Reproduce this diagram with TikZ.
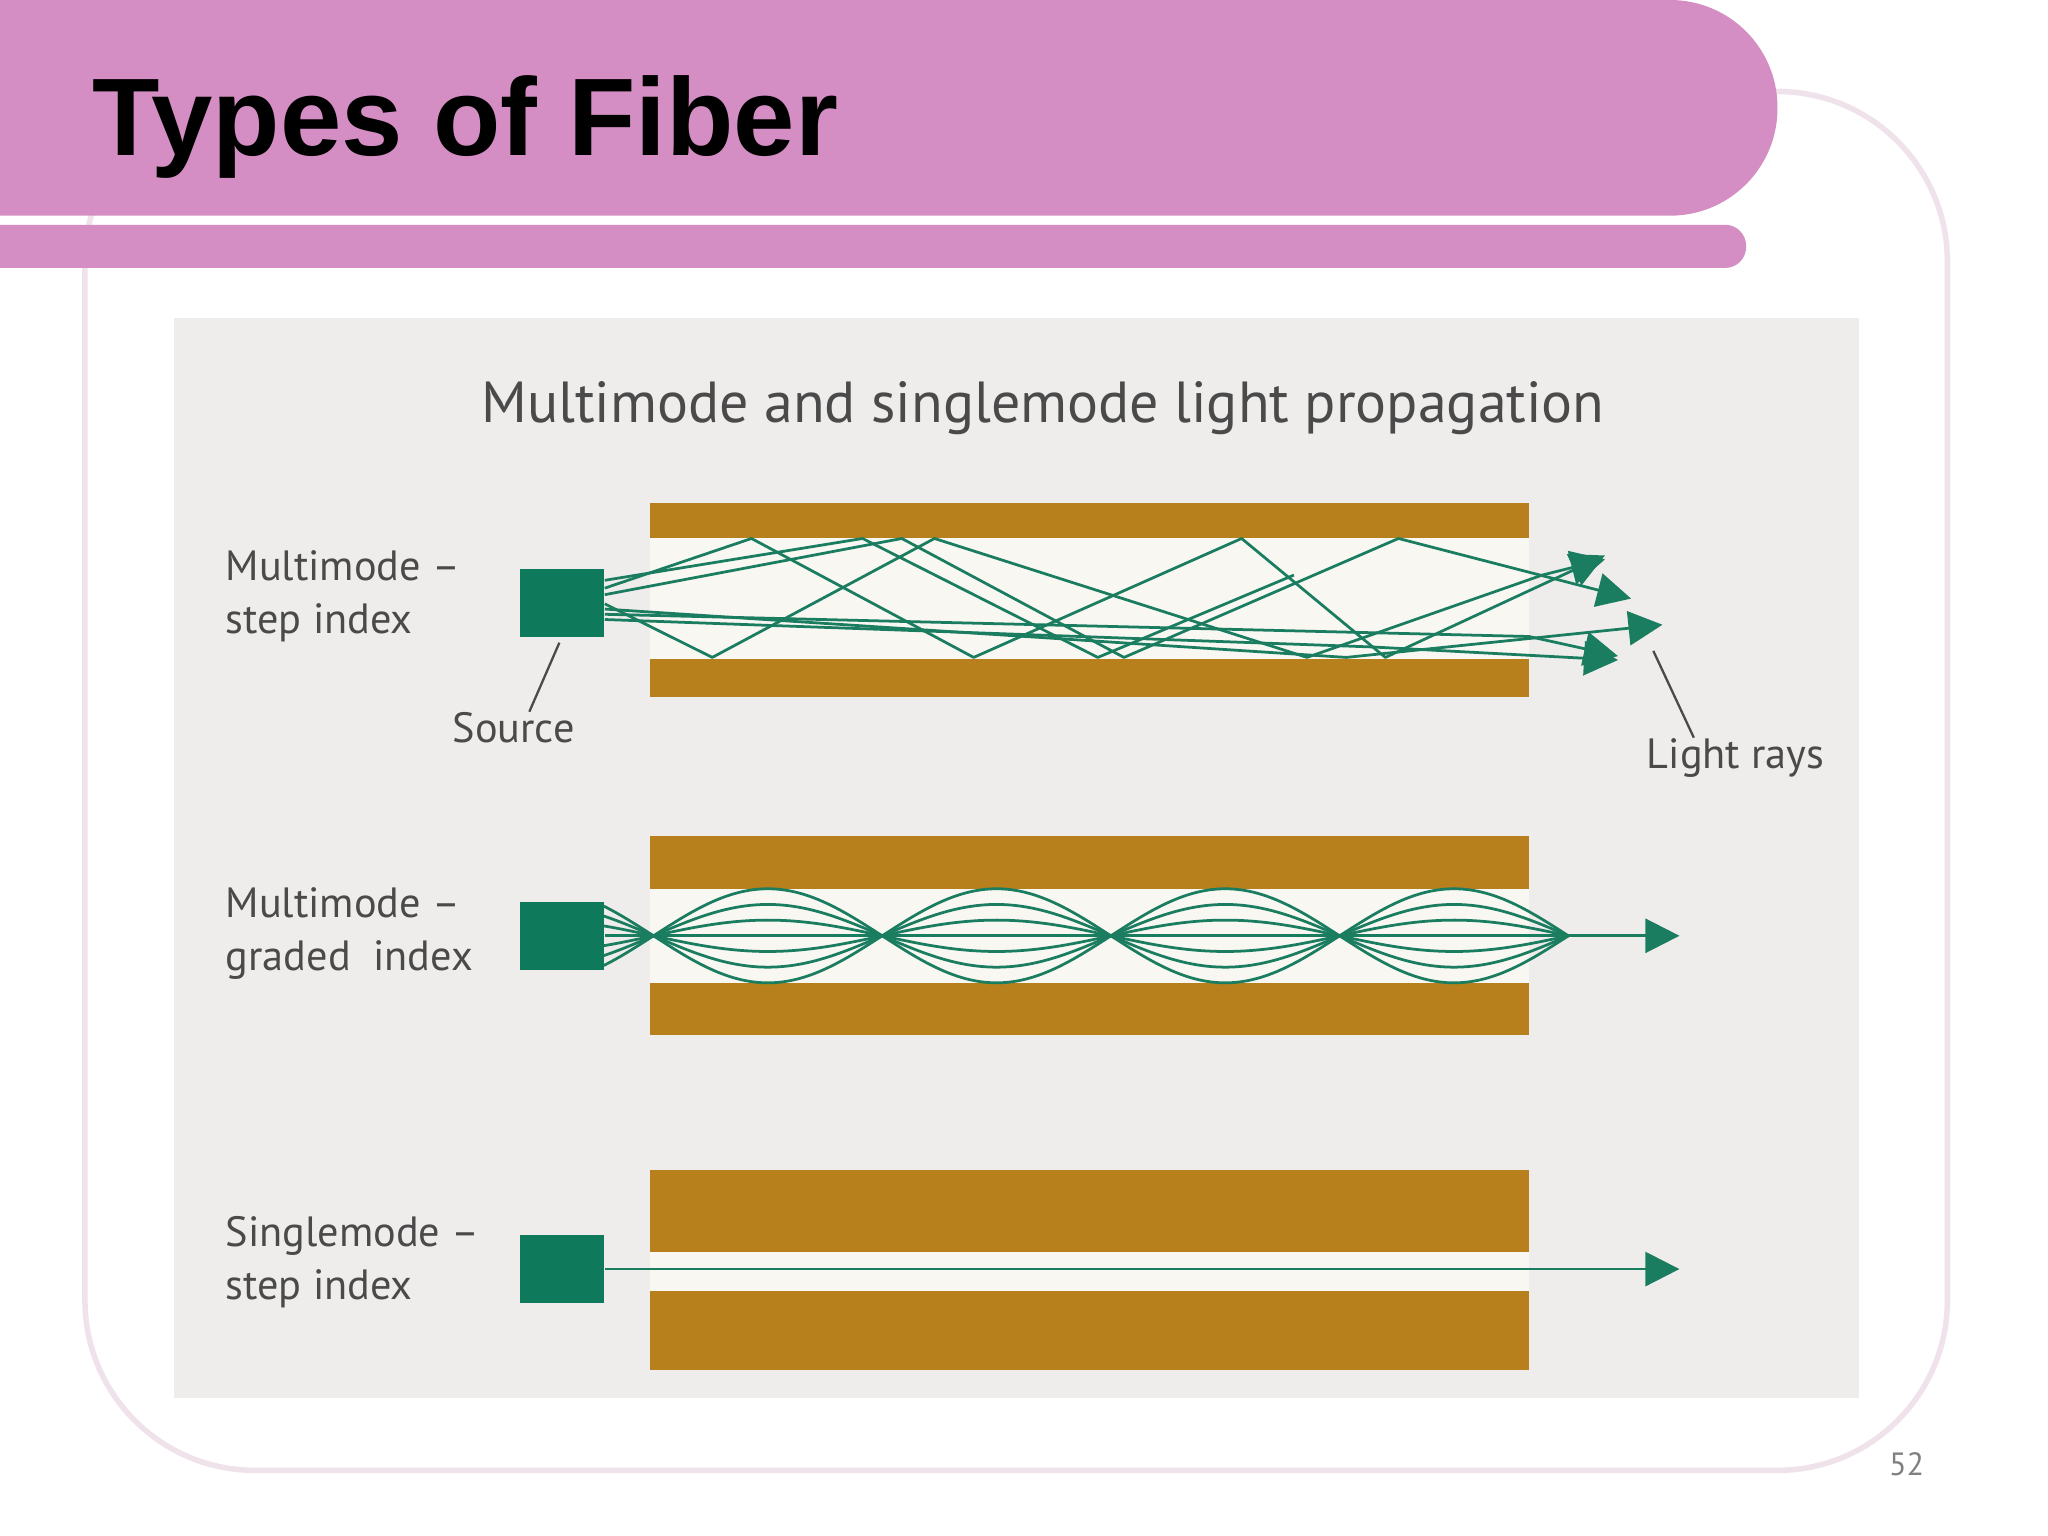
\documentclass[tikz,border=0pt]{standalone}
\usepackage{fontspec}
\setmainfont{Liberation Sans}
\newfontfamily\labfont{PT Sans}
\usetikzlibrary{positioning, arrows.meta}
\definecolor{bannerpink}{HTML}{D48EC4}
\definecolor{framepink}{HTML}{EFE2EB}
\definecolor{panelgray}{HTML}{EFEDEB}
\definecolor{cladbrown}{HTML}{B7801C}
\definecolor{corewhite}{HTML}{F9F7F2}
\definecolor{raygreen}{HTML}{1A7D60}
\definecolor{srcgreen}{HTML}{0F7A5B}
\definecolor{labgray}{HTML}{4A4A4A}
\tikzset{
	cladding/.style ={fill=cladbrown},
	core/.style ={fill=corewhite},
	source/.style ={fill=srcgreen, draw=none, minimum width=0.64cm, minimum height=0.52cm, inner sep=0pt},
	ray/.style ={raygreen, line width=0.6pt, line join=round},
	rayarrow/.style ={ray, -{Triangle[length=2.6mm, width=2.6mm]}},
	labe/.style ={font={\labfont\fontsize{9.2}{11.5}\selectfont}, text=labgray, align=left, inner sep=0pt, anchor=west},
	pointer/.style ={labgray, line width=0.5pt},
}
\begin{document}
\begin{tikzpicture}[x=0.01cm, y=-0.01cm]
	\useasboundingbox (0,0) rectangle (1567,1175);
	\fill[white] (0,0) rectangle (1567,1175);
	% frame and banner
	\draw[framepink, line width=1.2pt, rounded corners=1.3cm] (65,70) rectangle (1490,1125);
	\begin{scope}
		\clip (0,0) rectangle (1567,1175);
		\fill[bannerpink, rounded corners=0.82cm] (-200,0) rectangle (1360,165);
		\fill[bannerpink, rounded corners=0.16cm] (-200,172) rectangle (1336,205);
	\end{scope}
	\node[anchor=west, inner sep=0pt, font={\bfseries\fontsize{24}{28}\selectfont}] (title) at (70,97) {Types of Fiber};
	\node[anchor=east, inner sep=0pt, text=gray, font={\labfont\fontsize{7}{8}\selectfont}] (page) at (1473,1120) {52};
	% panel
	\fill[panelgray] (133,243) rectangle (1422,1070);
	\node[inner sep=0pt, text=labgray, font={\labfont\fontsize{12.6}{15}\selectfont}] (heading) at (798,312) {Multimode and singlemode light propagation};
	% fibers
	\fill[cladding] (497,385) rectangle (1170,533);
	\fill[core] (497,412) rectangle (1170,504);
	\fill[cladding] (497,640) rectangle (1170,792);
	\fill[core] (497,680) rectangle (1170,752);
	\fill[cladding] (497,895) rectangle (1170,1048);
	\fill[core] (497,958) rectangle (1170,988);
	% sources
	\node[source] (src1) at (430,461) {};
	\node[source] (src2) at (430,716) {};
	\node[source] (src3) at (430,971) {};
	% step index rays
	\draw[rayarrow] (src1.east |- 0,450) -- (575,412) -- (745,503) -- (950,412) -- (1060,503) -- (1228,425);
	\draw[rayarrow] (src1.east |- 0,455) -- (690,412) -- (860,503) -- (1070,412) -- (1248,458);
	\draw[rayarrow] (src1.east |- 0,462) -- (545,503) -- (715,412) -- (1000,503) -- (1180,440) -- (1228,428);
	\draw[ray] (src1.east |- 0,444) -- (660,412) -- (840,503) -- (990,440);
	\draw[rayarrow] (src1.east |- 0,466) -- (1030,503) -- (1272,478);
	\draw[rayarrow] (src1.east |- 0,470) -- (1170,487) -- (1238,502);
	\draw[rayarrow] (src1.east |- 0,474) -- (1050,495) -- (1238,505);
	% graded index rays
	\foreach \a in {36,-36,24,-24,12,-12}
		\draw[ray] plot[domain=462:1200, samples=120, smooth] (\x,{716+\a*sin((\x-500)/175*180)});
	\draw[rayarrow] (src2.east) -- (1285,716);
	% singlemode ray
	\draw[rayarrow] (src3.east) -- (1285,971);
	% labels
	\node[labe] (lab1) at (172,456) {Multimode –\\step index};
	\node[labe] (lab2) at (172,714) {Multimode –\\graded\ \ index};
	\node[labe] (lab3) at (172,966) {Singlemode –\\step index};
	\node[labe, anchor=center] (srclab) at (393,557) {Source};
	\node[labe, anchor=center] (raylab) at (1328,580) {Light rays};
	\draw[pointer] (src1.south) ++(-2,4) -- (srclab.north -| 405,0);
	\coordinate (raytip) at (1265,498);
	\draw[pointer] (raylab.north -| 1296,0) -- (raytip);
\end{tikzpicture}
\end{document}
